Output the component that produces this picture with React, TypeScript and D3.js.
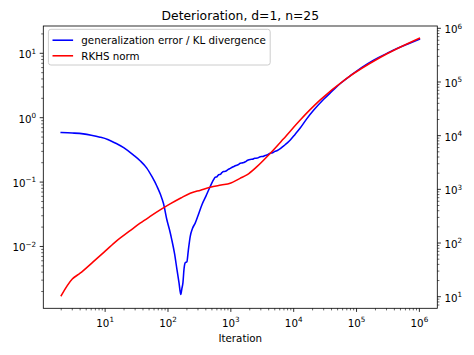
import React, { useEffect } from 'react';
import * as d3 from 'd3';

const chartTitle = 'Deterioration, d=1, n=25';
const xAxisLabel = 'Iteration';
const legendLabels = ['generalization error / KL divergence', 'RKHS norm'];
const seriesColors = ['#0000ff', '#ff0000'];

const blueIter = [2, 3, 4.5, 6, 8.3, 11, 15.4, 20, 28, 36, 46, 56, 67, 76, 85, 96, 106, 115, 127, 139, 150, 160, 166, 173, 180, 188, 200, 210, 226, 245, 271, 300, 347, 400, 470, 531, 560, 600, 640, 680, 720, 766, 820, 900, 980, 1050, 1120, 1200, 1300, 1413, 1550, 1700, 1850, 2038, 2200, 2400, 2650, 2940, 3200, 3500, 3850, 4240, 4600, 5000, 5500, 6120, 6700, 7300, 8000, 8830, 10500, 12700, 16000, 20700, 30000, 40000, 55200, 80000, 120000, 187000, 300000, 441000, 700000, 1000000];
const blueValue = [0.587, 0.578, 0.561, 0.535, 0.499, 0.46, 0.393, 0.34, 0.265, 0.215, 0.165, 0.12, 0.0855, 0.064, 0.046, 0.026, 0.018, 0.0127, 0.0078, 0.00437, 0.0027, 0.00179, 0.0022, 0.00275, 0.0045, 0.0056, 0.0058, 0.0085, 0.0144, 0.019, 0.0231, 0.030, 0.0445, 0.06, 0.0855, 0.109, 0.118, 0.121, 0.13, 0.132, 0.14, 0.146, 0.147, 0.156, 0.163, 0.17, 0.175, 0.181, 0.186, 0.196, 0.199, 0.207, 0.218, 0.225, 0.226, 0.234, 0.236, 0.248, 0.25, 0.258, 0.266, 0.281, 0.285, 0.30, 0.31, 0.33, 0.355, 0.38, 0.41, 0.45, 0.55, 0.69, 0.95, 1.3, 1.93, 2.53, 3.4, 4.5, 6.0, 7.85, 9.9, 11.9, 14.3, 16.5];

const redIter = [2, 3, 4, 6.5, 10, 15.4, 24, 36, 52, 75, 108, 160, 226, 330, 470, 700, 977, 1400, 1800, 2600, 4240, 6840, 12600, 26200, 69800, 237000, 1000000];
const redValue = [10.5, 21.3, 27.4, 45, 70.5, 111, 164, 234, 313, 413, 535, 690, 845, 966, 1093, 1202, 1300, 1603, 1855, 2650, 4700, 8670, 19400, 45800, 117000, 286000, 652000];

const xMajorTicks = [10, 100, 1e3, 1e4, 1e5, 1e6];
const leftMajorTicks = [0.01, 0.1, 1, 10];
const rightMajorTicks = [10, 100, 1e3, 1e4, 1e5, 1e6];

const W = 474;
const H = 355;
const L = 43.3;
const R = 437.3;
const T = 26;
const B = 308.3;
const FONT = 'DejaVu Sans, sans-serif';
const FS = 10.29;

const x = d3.scaleLog().domain([10 ** 0.0161, 10 ** 6.285]).range([L, R]);
const yl = d3.scaleLog().domain([10 ** -2.96, 10 ** 1.424]).range([B, T]);
const yr = d3.scaleLog().domain([10 ** 0.784, 10 ** 6.043]).range([B, T]);

function minorTicks(scale: any) {
  const [a, b] = scale.domain();
  const out: number[] = [];
  for (let e = Math.floor(Math.log10(a)); e <= Math.ceil(Math.log10(b)); e++) {
    for (let k = 2; k <= 9; k++) {
      const v = k * 10 ** e;
      if (v >= a && v <= b) out.push(v);
    }
  }
  return out;
}

function expOf(v: number) {
  const e = Math.round(Math.log10(v));
  return e < 0 ? '\u2212' + Math.abs(e) : String(e);
}

function PowLabel(props: { x: number; y: number; v: number; anchor: string }) {
  return (
    <text x={props.x} y={props.y} textAnchor={props.anchor} fontFamily={FONT} fontSize={FS} fill="#000">
      <tspan>10</tspan>
      <tspan fontSize={FS * 0.7} dy={-4.6}>{expOf(props.v)}</tspan>
    </text>
  );
}

export default function App() {
  useEffect(() => {
    document.body.style.margin = '0';
  }, []);

  const line = (xs: number[], ys: number[], ysc: any) =>
    d3
      .line<number>()
      .x((_, i) => x(xs[i]))
      .y((_, i) => ysc(ys[i]))
      .curve(d3.curveMonotoneX)(xs) || '';

  const bluePath = line(blueIter, blueValue, yl);
  const redPath = line(redIter, redValue, yr);

  const xMinor = minorTicks(x);
  const lMinor = minorTicks(yl);
  const rMinor = minorTicks(yr);
  const xMaj = xMajorTicks.filter((v) => x(v) >= L - 0.1 && x(v) <= R + 0.1);

  const major = 3.6;
  const minor = 2.1;

  const legX = 48.4;
  const legY = 29.3;
  const legW = 221.8;
  const legH = 35.7;
  const rowY = [40.2, 55.8];

  return (
    <svg width={W} height={H} style={{ position: 'absolute', left: 0, top: 0, background: '#fff' }}>
      <rect x={0} y={0} width={W} height={H} fill="#fff" />
      <text x={(L + R) / 2} y={20} textAnchor="middle" fontFamily={FONT} fontSize={12.35} fill="#000">
        {chartTitle}
      </text>

      <path d={bluePath} fill="none" stroke={seriesColors[0]} strokeWidth={1.55} strokeLinejoin="round" strokeLinecap="square" />
      <path d={redPath} fill="none" stroke={seriesColors[1]} strokeWidth={1.55} strokeLinejoin="round" strokeLinecap="square" />

      {xMinor.map((v, i) => (
        <line key={'xm' + i} x1={x(v)} x2={x(v)} y1={B} y2={B + minor} stroke="#000" strokeWidth={0.6} />
      ))}
      {xMaj.map((v, i) => (
        <g key={'xM' + i}>
          <line x1={x(v)} x2={x(v)} y1={B} y2={B + major} stroke="#000" strokeWidth={0.82} />
          <PowLabel x={x(v)} y={B + 18.3} v={v} anchor="middle" />
        </g>
      ))}

      {lMinor.map((v, i) => (
        <line key={'lm' + i} x1={L} x2={L - minor} y1={yl(v)} y2={yl(v)} stroke="#000" strokeWidth={0.6} />
      ))}
      {leftMajorTicks.map((v, i) => (
        <g key={'lM' + i}>
          <line x1={L} x2={L - major} y1={yl(v)} y2={yl(v)} stroke="#000" strokeWidth={0.82} />
          <PowLabel x={L - 7.2} y={yl(v) + 5} v={v} anchor="end" />
        </g>
      ))}

      {rMinor.map((v, i) => (
        <line key={'rm' + i} x1={R} x2={R + minor} y1={yr(v)} y2={yr(v)} stroke="#000" strokeWidth={0.6} />
      ))}
      {rightMajorTicks.map((v, i) => (
        <g key={'rM' + i}>
          <line x1={R} x2={R + major} y1={yr(v)} y2={yr(v)} stroke="#000" strokeWidth={0.82} />
          <PowLabel x={R + 7.2} y={yr(v) + 5} v={v} anchor="start" />
        </g>
      ))}

      <rect x={L} y={T} width={R - L} height={B - T} fill="none" stroke="#000" strokeWidth={0.82} />

      <text x={(L + R) / 2} y={341.6} textAnchor="middle" fontFamily={FONT} fontSize={FS} fill="#000">
        {xAxisLabel}
      </text>

      <rect x={legX} y={legY} width={legW} height={legH} rx={2.5} fill="#fff" fillOpacity={0.8} stroke="#cccccc" strokeWidth={1} />
      {legendLabels.map((lab, i) => (
        <g key={'lg' + i}>
          <line x1={legX + 4.1} x2={legX + 24.7} y1={rowY[i]} y2={rowY[i]} stroke={seriesColors[i]} strokeWidth={1.55} />
          <text x={legX + 32.9} y={rowY[i] + 3.7} fontFamily={FONT} fontSize={FS} fill="#000">
            {lab}
          </text>
        </g>
      ))}
    </svg>
  );
}
